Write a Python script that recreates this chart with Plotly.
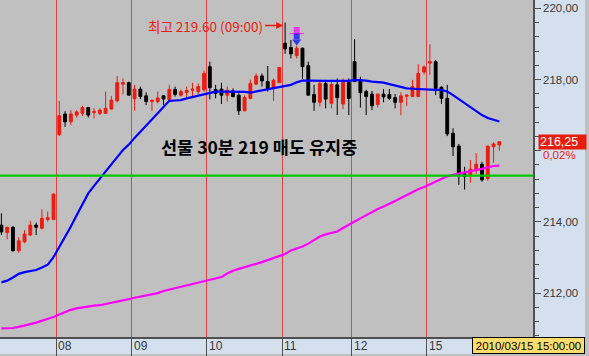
import plotly.graph_objects as go

# ---------------- data ----------------
days = ["05", "08", "09", "10", "11", "12", "15"]
bars_per_day = [10, 13, 13, 13, 12, 13, 13]

opens = [213.91, 213.70, 213.85, 213.19, 213.44, 213.63, 213.91, 213.82, 214.07, 214.07,
         216.45, 217.03, 216.81, 217.00, 217.05, 217.21, 217.07, 217.05, 217.05, 217.17, 217.40, 217.87, 217.91,
         217.46, 217.73, 217.54, 217.38, 217.38, 217.54, 217.44, 217.72, 217.56, 217.63, 217.70, 217.66, 217.71,
         218.36, 217.72, 217.73, 217.56, 217.68, 217.56, 217.12, 217.47, 217.87, 218.10, 217.94, 217.75, 217.91,
         219.02, 218.90, 218.67, 218.88, 218.39, 217.58, 217.36, 217.89, 217.33, 217.85, 217.31, 217.92,
         218.50, 217.99, 217.66, 217.59, 217.30, 217.59, 217.58, 217.49, 217.36, 217.53, 217.52, 217.52, 218.21,
         218.46, 218.50, 217.78, 217.47, 216.49, 216.13, 215.35, 215.32, 215.46, 215.62, 215.22, 216.11, 216.16]
highs = [214.24, 213.86, 213.88, 213.57, 213.77, 214.03, 213.98, 214.35, 214.29, 214.80,
         217.40, 217.11, 217.14, 217.14, 217.26, 217.23, 217.19, 217.19, 217.66, 217.54, 218.10, 218.03, 217.94,
         217.85, 217.80, 217.64, 217.42, 217.66, 217.56, 217.85, 217.80, 217.72, 217.80, 217.91, 217.89, 218.25,
         218.50, 217.85, 217.91, 217.80, 217.75, 217.61, 217.56, 218.00, 218.17, 218.17, 218.38, 218.03, 218.34,
         219.60, 219.11, 218.95, 218.89, 218.50, 217.85, 217.94, 217.99, 217.99, 218.03, 218.03, 218.03,
         219.14, 218.08, 217.71, 217.68, 217.59, 217.73, 217.73, 217.59, 217.64, 217.58, 217.99, 218.43, 218.40,
         218.99, 218.55, 217.82, 217.85, 216.63, 216.19, 215.55, 215.74, 215.93, 215.69, 216.13, 216.24, 216.26]
lows = [213.63, 213.51, 213.17, 213.13, 213.40, 213.61, 213.63, 213.79, 214.01, 214.05,
        216.42, 216.67, 216.72, 216.93, 216.97, 216.93, 216.91, 217.00, 217.03, 217.16, 217.36, 217.58, 217.56,
        217.12, 217.45, 217.28, 217.12, 217.33, 217.28, 217.42, 217.52, 217.52, 217.50, 217.52, 217.59, 217.66,
        217.44, 217.47, 217.31, 217.38, 217.50, 217.00, 217.12, 217.44, 217.85, 217.80, 217.66, 217.40, 217.91,
        218.72, 218.59, 218.59, 218.01, 217.56, 217.12, 217.24, 217.19, 217.19, 217.00, 217.17, 217.00,
        217.94, 217.21, 217.00, 217.14, 217.21, 217.36, 217.42, 217.19, 217.00, 217.26, 217.52, 217.52, 218.14,
        218.13, 217.56, 217.31, 216.41, 215.85, 215.04, 214.91, 215.10, 215.35, 215.13, 215.16, 215.66, 216.00]
closes = [213.72, 213.85, 213.19, 213.47, 213.66, 213.91, 213.85, 214.10, 214.12, 214.78,
          216.98, 216.81, 217.03, 217.09, 217.21, 217.00, 217.10, 217.14, 217.19, 217.42, 217.91, 217.91, 217.56,
          217.73, 217.52, 217.38, 217.42, 217.48, 217.45, 217.72, 217.58, 217.66, 217.69, 217.73, 217.80, 218.17,
          217.77, 217.61, 217.56, 217.70, 217.52, 217.12, 217.50, 217.89, 218.10, 217.96, 217.75, 217.98, 218.34,
          218.86, 218.72, 218.88, 218.36, 217.56, 217.36, 217.89, 217.45, 217.86, 217.49, 217.92, 217.47,
          217.94, 217.63, 217.52, 217.26, 217.59, 217.51, 217.47, 217.36, 217.54, 217.56, 217.80, 218.17, 218.35,
          218.50, 217.75, 217.47, 216.47, 216.11, 215.32, 215.27, 215.48, 215.62, 215.18, 216.13, 216.19, 216.25]

ma_blue = [212.30, 212.35, 212.44, 212.54, 212.59, 212.62, 212.65, 212.72, 212.80, 213.01,
           213.29, 213.56, 213.87, 214.19, 214.50, 214.80, 215.01, 215.22, 215.43, 215.64, 215.82, 216.02, 216.17,
           216.36, 216.53, 216.71, 216.90, 217.07, 217.24, 217.40, 217.41, 217.42, 217.47, 217.51, 217.55, 217.59,
           217.63, 217.66, 217.66, 217.66, 217.66, 217.65, 217.65, 217.63, 217.66, 217.69, 217.72, 217.75, 217.78,
           217.80, 217.85, 217.92, 217.97, 217.97, 217.96, 217.96, 217.96, 217.96, 217.96, 217.96, 217.96,
           217.99, 217.99, 217.97, 217.94, 217.93, 217.91, 217.87, 217.83, 217.79, 217.75, 217.74, 217.73, 217.71,
           217.71, 217.71, 217.71, 217.66, 217.56, 217.45, 217.34, 217.21, 217.10, 217.00, 216.92, 216.86, 216.82]
ma_magenta = [211.01, 211.01, 211.02, 211.05, 211.08, 211.13, 211.17, 211.22, 211.27, 211.33,
              211.40, 211.47, 211.53, 211.57, 211.60, 211.62, 211.65, 211.66, 211.69, 211.72, 211.76, 211.78, 211.83,
              211.87, 211.90, 211.92, 211.96, 212.00, 212.06, 212.10, 212.14, 212.19, 212.23, 212.27, 212.31, 212.35,
              212.38, 212.41, 212.45, 212.55, 212.63, 212.68, 212.72, 212.77, 212.82, 212.87, 212.93, 212.98, 213.04,
              213.10, 213.20, 213.25, 213.31, 213.39, 213.49, 213.59, 213.65, 213.69, 213.73, 213.83, 213.91,
              214.01, 214.10, 214.19, 214.28, 214.36, 214.43, 214.52, 214.59, 214.67, 214.76, 214.83, 214.92, 214.98,
              215.06, 215.13, 215.20, 215.28, 215.32, 215.35, 215.38, 215.42, 215.46, 215.49, 215.53, 215.57, 215.58]

support_level = 215.30
y_ticks = [212, 214, 216, 218, 220]
y_tick_hidden = 216      # label covered by the last-price box in the reference
high_time = "09:00"
signal_bar = 41          # bar position of the sell-signal marker
last_time = "2010/03/15 15:00:00"
change_pct = "0,02%"
headline = "선물 30분 219 매도 유지중"

# ---------------- derived positions ----------------
n = sum(bars_per_day)
x = list(range(-bars_per_day[0], n - bars_per_day[0]))
boundaries = []
pos = -bars_per_day[0]
for d, c in zip(days, bars_per_day):
    boundaries.append((pos - 0.5, d))
    pos += c
boundaries = boundaries[1:]

RED = "#ec1c10"
AXIS = "#505050"
LBL = "#383838"
NUMFONT = "Liberation Sans, Arial"

fig = go.Figure()

fig.add_trace(go.Scatter(x=x, y=ma_magenta, mode="lines",
                         line=dict(color="#ff00ff", width=2.2), hoverinfo="skip"))
fig.add_trace(go.Scatter(x=x, y=ma_blue, mode="lines",
                         line=dict(color="#0000ff", width=2.2), hoverinfo="skip"))
fig.add_trace(go.Candlestick(
    x=x, open=opens, high=highs, low=lows, close=closes,
    increasing=dict(line=dict(color=RED, width=1), fillcolor=RED),
    decreasing=dict(line=dict(color="#000000", width=1), fillcolor="#000000"),
    whiskerwidth=0, hoverinfo="skip"))

# sell signal marker above the signal bar
si = x.index(signal_bar)
sh = highs[si]
fig.add_trace(go.Scatter(
    x=[signal_bar, signal_bar, signal_bar, signal_bar],
    y=[sh + 0.44, sh + 0.34, sh + 0.26, sh + 0.12],
    mode="markers",
    marker=dict(symbol=["square", "line-ew", "square", "triangle-down"],
                size=[6, 10, 6, 8],
                color=["#ff00ff", "#ff00ff", "#0000ff", "#0000ff"],
                line=dict(width=[0, 1.2, 0, 0], color=["#ff00ff", "#ff00ff", "#0000ff", "#0000ff"])),
    hoverinfo="skip"))

# support line
fig.add_shape(type="line", xref="paper", x0=0, x1=1, yref="y",
              y0=support_level, y1=support_level,
              line=dict(color="#00c800", width=2.2), layer="above")

# grey borders at the far right and bottom
fig.add_shape(type="rect", xref="paper", yref="paper", x0=585 / 533, x1=1.2,
              y0=-0.2, y1=1.05, fillcolor="#c0c0c0", line=dict(width=0), layer="below")
fig.add_shape(type="rect", xref="paper", yref="paper", x0=-0.05, x1=585 / 533,
              y0=-0.2, y1=-17 / 337, fillcolor="#c0c0c0", line=dict(width=0), layer="below")

# day labels in the bottom strip
for bx, d in boundaries:
    fig.add_annotation(x=bx, xref="x", y=-8.5 / 337, yref="paper", text=d,
                       showarrow=False, xanchor="left", yanchor="middle", xshift=0,
                       font=dict(family=NUMFONT, size=12, color=LBL))

# highest price annotation
hi_idx = highs.index(max(highs))
fig.add_annotation(x=x[hi_idx], y=highs[hi_idx], xref="x", yref="y",
                   text=f"최고 {highs[hi_idx]:.2f} ({high_time})",
                   showarrow=True, ax=-20, ay=0, arrowhead=2, arrowsize=1, arrowwidth=1.4,
                   arrowcolor=RED, standoff=2, xanchor="right", yshift=-3,
                   font=dict(family="Noto Sans CJK KR", size=13.5, color=RED))

# headline
fig.add_annotation(x=259 / 533, y=1 - 146 / 337, xref="paper", yref="paper",
                   text=f"<b>{headline}</b>", showarrow=False,
                   font=dict(family="Noto Sans CJK KR", size=17.5, color="#000000"))

# last price box and change
fig.add_annotation(x=1, xref="paper", y=closes[-1], yref="y", xshift=5,
                   text=f"{closes[-1]:.2f}".replace(".", ","), showarrow=False,
                   xanchor="left", yanchor="middle", align="left",
                   bgcolor="#e81c0c", width=45, height=12, borderpad=1,
                   font=dict(family=NUMFONT, size=12.5, color="#ffffff"))
fig.add_annotation(x=1, xref="paper", y=closes[-1], yref="y", xshift=8, yshift=-13,
                   text=change_pct, showarrow=False, xanchor="left", yanchor="middle",
                   font=dict(family=NUMFONT, size=11.5, color="#ec1c10"))

# date box
fig.add_annotation(x=1, xref="paper", y=0, yref="paper", xshift=52,
                   text=last_time, showarrow=False, xanchor="right", yanchor="top",
                   bgcolor="#ffdc6c", bordercolor="#000000", borderwidth=1, borderpad=0,
                   width=111, height=15,
                   font=dict(family=NUMFONT, size=11.5, color="#000000"))

fig.update_layout(
    width=589, height=356, autosize=False,
    margin=dict(l=0, r=56, t=0, b=19, pad=0),
    paper_bgcolor="#d5e0ee", plot_bgcolor="#c0c0c0",
    showlegend=False, hovermode=False,
    xaxis=dict(range=[-10.24, 81.81], tickmode="array",
               tickvals=[b for b, _ in boundaries], showticklabels=False,
               showgrid=True, gridcolor="#e04444", gridwidth=1,
               ticks="outside", ticklen=17, tickcolor=AXIS, tickwidth=1,
               showline=True, linecolor=AXIS, linewidth=1.5, zeroline=False,
               rangeslider=dict(visible=False), fixedrange=True),
    yaxis=dict(range=[210.767, 220.233], side="right",
               tickmode="array", tickvals=y_ticks,
               ticktext=["" if v == y_tick_hidden else f"{v:.2f}".replace(".", ",") for v in y_ticks],
               ticks="outside", ticklen=6, tickcolor=AXIS, tickwidth=1,
               minor=dict(tickmode="linear", tick0=212, dtick=0.4, ticks="outside",
                          ticklen=4, tickcolor=AXIS),
               showgrid=False, zeroline=False, showline=True, linecolor=AXIS, linewidth=1.5,
               tickfont=dict(family=NUMFONT, size=11.5, color=LBL), fixedrange=True),
)

fig.write_html("out.html")
